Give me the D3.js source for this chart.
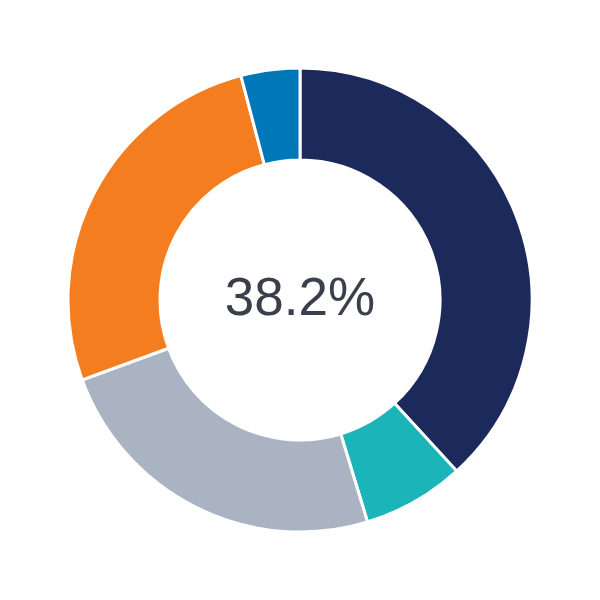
<!DOCTYPE html>
<html>
<head>
<meta charset="utf-8">
<script src="https://cdn.jsdelivr.net/npm/d3@7.9.0/dist/d3.min.js"></script>
<style>
  html, body { margin: 0; padding: 0; background: #fff; }
</style>
</head>
<body>
<div id="chart"></div>
<script>
// slice values in percent, clockwise from 12 o'clock
const labels = ["A", "B", "C", "D", "E"];
const values = [38.2, 7.1, 24.1, 26.5, 4.1];
const colors = ["#1b2a5a", "#1bb5b9", "#a9b3c1", "#f47d20", "#0077b6"];
const centerLabel = "38.2%";

const width = 600;
const height = 600;
const outerRadius = 232;
const innerRadius = 140;

const svg = d3.select("#chart").append("svg")
    .attr("width", width)
    .attr("height", height)
    .append("g")
    .attr("transform", `translate(${width / 2},${height / 2})`);

const data = labels.map((d, i) => ({ label: d, value: values[i], color: colors[i] }));

const pie = d3.pie()
    .value(d => d.value)
    .sort(null);

const arc = d3.arc()
    .innerRadius(innerRadius)
    .outerRadius(outerRadius);

svg.selectAll("path")
    .data(pie(data))
    .enter().append("path")
    .attr("d", arc)
    .style("fill", d => d.data.color)
    .style("stroke", "#fff")
    .style("stroke-width", 3);

svg.append("text")
    .attr("text-anchor", "middle")
    .attr("y", 15)
    .style("font-family", "'Liberation Sans', Arial, sans-serif")
    .style("font-size", "53px")
    .style("fill", "#3a3f4b")
    .text(centerLabel);
</script>
</body>
</html>
